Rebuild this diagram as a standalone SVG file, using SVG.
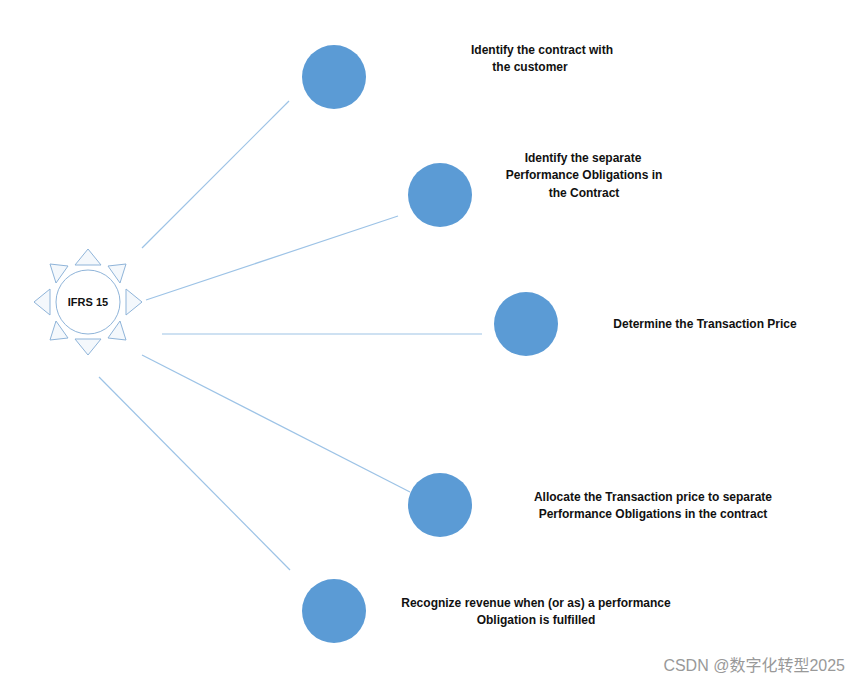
<svg xmlns="http://www.w3.org/2000/svg" width="861" height="684" viewBox="0 0 861 684">
<style>
.n{fill:#5b9bd5}
.t{font-family:"Liberation Sans",Arial,sans-serif;font-size:12px;font-weight:bold;fill:#111;text-anchor:middle}
.c line{stroke:#9dc3e6;stroke-width:1.2}
.s{fill:#f4f8fc;stroke:#8fb4d9;stroke-width:1}
</style>
<rect width="861" height="684" fill="#fff"/>
<g id="hub">
<polygon class="s" points="88,249 101,265 75,265"/>
<polygon class="s" points="88,355 101,339 75,339"/>
<polygon class="s" points="34,302 50,289 50,315"/>
<polygon class="s" points="142,302 126,289 126,315"/>
<polygon class="s" points="50,264 68,266 56,283"/>
<polygon class="s" points="126,264 108,266 120,283"/>
<polygon class="s" points="50,340 68,338 56,321"/>
<polygon class="s" points="126,340 108,338 120,321"/>
<circle cx="88" cy="302" r="32" fill="#fff" stroke="#8fb4d9"/>
<text class="t" x="88" y="306" style="font-size:11px">IFRS 15</text>
</g>
<g class="c" id="connectors">
<line x1="142" y1="248" x2="289" y2="101"/>
<line x1="146" y1="300" x2="398" y2="216"/>
<line x1="162" y1="334" x2="482" y2="334"/>
<line x1="142" y1="355" x2="410" y2="492"/>
<line x1="99" y1="377" x2="290" y2="570"/>
</g>
<g id="n1"><circle class="n" cx="334" cy="77" r="32"/><text class="t" x="542" y="54">Identify the contract with</text><text class="t" x="530" y="71">the customer</text></g>
<g id="n2"><circle class="n" cx="440" cy="195" r="32"/><text class="t" x="583" y="162">Identify the separate</text><text class="t" x="584" y="179">Performance Obligations in</text><text class="t" x="584" y="197">the Contract</text></g>
<g id="n3"><circle class="n" cx="526" cy="324" r="32"/><text class="t" x="705" y="328">Determine the Transaction Price</text></g>
<g id="n4"><circle class="n" cx="440" cy="505" r="32"/><text class="t" x="653" y="501">Allocate the Transaction price to separate</text><text class="t" x="653" y="518">Performance Obligations in the contract</text></g>
<g id="n5"><circle class="n" cx="334" cy="611" r="32"/><text class="t" x="536" y="607">Recognize revenue when (or as) a performance</text><text class="t" x="536" y="624">Obligation is fulfilled</text></g>
<text x="845" y="671" style="font-family:'Liberation Sans','Noto Sans CJK SC',sans-serif;font-size:16px;fill:#999;text-anchor:end">CSDN @数字化转型2025</text>
</svg>
